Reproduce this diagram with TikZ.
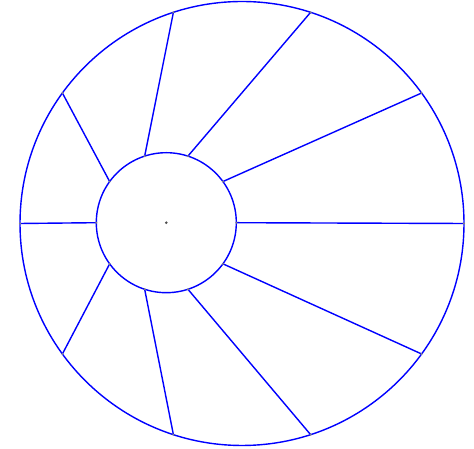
\documentclass[tikz,border=0pt]{standalone}
\begin{document}
\begin{tikzpicture}[x=0.02cm,y=0.02cm]
    \useasboundingbox (0,0) rectangle (474,449);
    \coordinate (O) at (242,225.5);
    \coordinate (C) at (166.3,226.3);
    \draw[blue,line width=0.8pt] (O) circle (222);
    \draw[blue,line width=0.8pt] (C) circle (70);
    \foreach \a in {0,36,...,324}{
      \coordinate (in\a) at ([shift={(\a:70)}]C);
      \coordinate (out\a) at ([shift={(\a:222)}]O);
      \draw[blue,line width=0.8pt] (in\a)--(out\a);
      \fill[gray] (in\a) circle (1.1) (out\a) circle (1.1);
    }
    \fill[black!70] (C) circle (1.4);
\end{tikzpicture}
\end{document}
